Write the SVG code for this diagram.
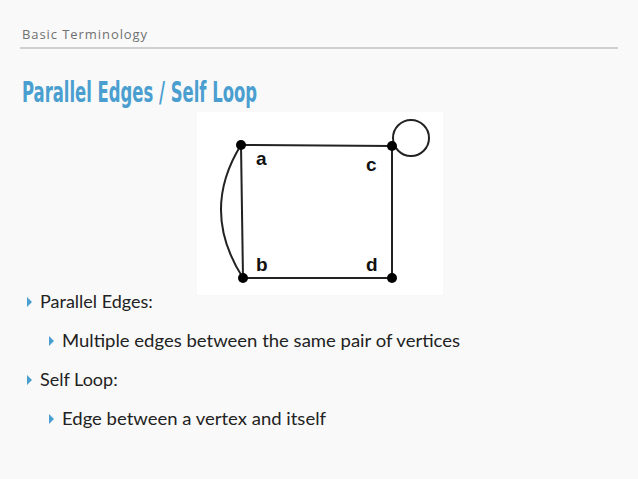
<svg xmlns="http://www.w3.org/2000/svg" width="638" height="479" viewBox="0 0 638 479">
<style>
.hdr{font-family:"Open Sans","Liberation Sans",sans-serif;font-size:13px;fill:#707070;letter-spacing:0.9px}
.ttl{font-family:"DejaVu Sans Condensed","Liberation Sans",sans-serif;font-weight:bold;font-size:29px;fill:#4a9fd0;font-stretch:condensed}
.bt{font-family:"Lato","Open Sans",sans-serif;font-size:18px;fill:#222}
.lbl{font-family:"Liberation Sans",Arial,sans-serif;font-weight:bold;font-size:19px;fill:#111}
.edge{stroke:#222;stroke-width:2;fill:none}
.v{fill:#000}
.tri{fill:#4a9fd0}
</style>
<rect width="638" height="479" fill="#f9f9f9"/>
<text class="hdr" x="22" y="39" textLength="126" lengthAdjust="spacing">Basic Terminology</text>
<line x1="20" y1="48" x2="618" y2="48" stroke="#a8a8a8" stroke-width="1.2"/>
<text class="ttl" x="22" y="102" textLength="235" lengthAdjust="spacingAndGlyphs">Parallel Edges / Self Loop</text>
<rect x="197" y="112" width="246" height="183" fill="#ffffff"/>
<g id="edges">
<line class="edge" x1="241" y1="145" x2="392" y2="146"/>
<line class="edge" x1="241" y1="145" x2="243" y2="278"/>
<line class="edge" x1="243" y1="278" x2="392" y2="278"/>
<line class="edge" x1="392" y1="146" x2="392" y2="278"/>
<path class="edge" d="M241 145 Q200 211 243 278"/>
<circle class="edge" cx="411" cy="138" r="18"/>
</g>
<g id="a"><circle class="v" cx="241" cy="145" r="5"/><text class="lbl" x="256" y="165">a</text></g>
<g id="c"><circle class="v" cx="392" cy="146" r="5"/><text class="lbl" x="366" y="171">c</text></g>
<g id="b"><circle class="v" cx="243" cy="278" r="5"/><text class="lbl" x="256" y="271">b</text></g>
<g id="d"><circle class="v" cx="392" cy="278" r="5"/><text class="lbl" x="366" y="271">d</text></g>
<polygon class="tri" points="27,297 27,307 32,302"/>
<text class="bt" x="40" y="308">Parallel Edges:</text>
<polygon class="tri" points="49,336 49,346 54,341"/>
<text class="bt" x="62" y="347" textLength="398" lengthAdjust="spacingAndGlyphs">Multiple edges between the same pair of vertices</text>
<polygon class="tri" points="27,375 27,385 32,380"/>
<text class="bt" x="40" y="386">Self Loop:</text>
<polygon class="tri" points="49,414 49,424 54,419"/>
<text class="bt" x="62" y="425" textLength="264" lengthAdjust="spacingAndGlyphs">Edge between a vertex and itself</text>
</svg>
